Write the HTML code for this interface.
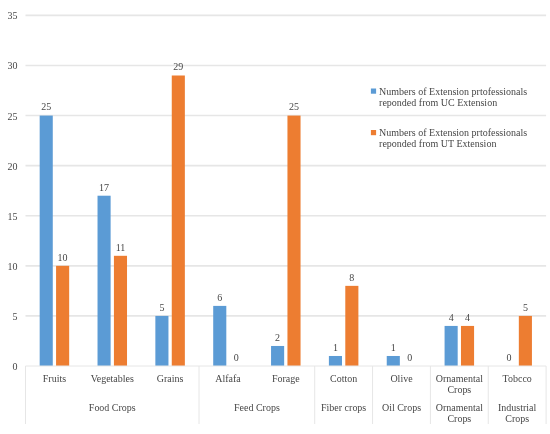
<!DOCTYPE html><html><head><meta charset="utf-8"><style>html,body{margin:0;padding:0;background:#fff;}svg{display:block;}text{font-family:"Liberation Serif","Times New Roman",serif;font-size:10px;fill:#474747;}</style></head><body>
<svg width="550" height="434" viewBox="0 0 550 434">
<rect width="550" height="434" fill="#fff"/>
<line x1="25.5" y1="315.91" x2="546.1" y2="315.91" stroke="#e6e6e6" stroke-width="1.6"/>
<line x1="25.5" y1="265.83" x2="546.1" y2="265.83" stroke="#e6e6e6" stroke-width="1.6"/>
<line x1="25.5" y1="215.74" x2="546.1" y2="215.74" stroke="#e6e6e6" stroke-width="1.6"/>
<line x1="25.5" y1="165.66" x2="546.1" y2="165.66" stroke="#e6e6e6" stroke-width="1.6"/>
<line x1="25.5" y1="115.57" x2="546.1" y2="115.57" stroke="#e6e6e6" stroke-width="1.6"/>
<line x1="25.5" y1="65.49" x2="546.1" y2="65.49" stroke="#e6e6e6" stroke-width="1.6"/>
<line x1="25.5" y1="15.4" x2="546.1" y2="15.4" stroke="#e6e6e6" stroke-width="1.6"/>
<text x="17.6" y="370" text-anchor="end">0</text>
<text x="17.6" y="319.91" text-anchor="end">5</text>
<text x="17.6" y="269.83" text-anchor="end">10</text>
<text x="17.6" y="219.74" text-anchor="end">15</text>
<text x="17.6" y="169.66" text-anchor="end">20</text>
<text x="17.6" y="119.57" text-anchor="end">25</text>
<text x="17.6" y="69.49" text-anchor="end">30</text>
<text x="17.6" y="19.4" text-anchor="end">35</text>
<rect x="39.67" y="115.57" width="13.1" height="250.43" fill="#5b9bd5"/>
<text x="46.22" y="110.47" text-anchor="middle">25</text>
<rect x="56.07" y="265.83" width="13.1" height="100.17" fill="#ed7d31"/>
<text x="62.62" y="260.73" text-anchor="middle">10</text>
<rect x="97.52" y="195.71" width="13.1" height="170.29" fill="#5b9bd5"/>
<text x="104.07" y="190.61" text-anchor="middle">17</text>
<rect x="113.92" y="255.81" width="13.1" height="110.19" fill="#ed7d31"/>
<text x="120.47" y="250.71" text-anchor="middle">11</text>
<rect x="155.36" y="315.91" width="13.1" height="50.09" fill="#5b9bd5"/>
<text x="161.91" y="310.81" text-anchor="middle">5</text>
<rect x="171.76" y="75.5" width="13.1" height="290.5" fill="#ed7d31"/>
<text x="178.31" y="70.4" text-anchor="middle">29</text>
<rect x="213.21" y="305.9" width="13.1" height="60.1" fill="#5b9bd5"/>
<text x="219.76" y="300.8" text-anchor="middle">6</text>
<text x="236.16" y="360.9" text-anchor="middle">0</text>
<rect x="271.05" y="345.97" width="13.1" height="20.03" fill="#5b9bd5"/>
<text x="277.6" y="340.87" text-anchor="middle">2</text>
<rect x="287.45" y="115.57" width="13.1" height="250.43" fill="#ed7d31"/>
<text x="294" y="110.47" text-anchor="middle">25</text>
<rect x="328.89" y="355.98" width="13.1" height="10.02" fill="#5b9bd5"/>
<text x="335.44" y="350.88" text-anchor="middle">1</text>
<rect x="345.29" y="285.86" width="13.1" height="80.14" fill="#ed7d31"/>
<text x="351.84" y="280.76" text-anchor="middle">8</text>
<rect x="386.74" y="355.98" width="13.1" height="10.02" fill="#5b9bd5"/>
<text x="393.29" y="350.88" text-anchor="middle">1</text>
<text x="409.69" y="360.9" text-anchor="middle">0</text>
<rect x="444.58" y="325.93" width="13.1" height="40.07" fill="#5b9bd5"/>
<text x="451.13" y="320.83" text-anchor="middle">4</text>
<rect x="460.98" y="325.93" width="13.1" height="40.07" fill="#ed7d31"/>
<text x="467.53" y="320.83" text-anchor="middle">4</text>
<text x="508.98" y="360.9" text-anchor="middle">0</text>
<rect x="518.83" y="315.91" width="13.1" height="50.09" fill="#ed7d31"/>
<text x="525.38" y="310.81" text-anchor="middle">5</text>
<line x1="25.5" y1="366" x2="546.1" y2="366" stroke="#e6e6e6" stroke-width="1"/>
<line x1="25.5" y1="366" x2="25.5" y2="424" stroke="#e6e6e6" stroke-width="1"/>
<line x1="199.03" y1="366" x2="199.03" y2="424" stroke="#e6e6e6" stroke-width="1"/>
<line x1="314.72" y1="366" x2="314.72" y2="424" stroke="#e6e6e6" stroke-width="1"/>
<line x1="372.57" y1="366" x2="372.57" y2="424" stroke="#e6e6e6" stroke-width="1"/>
<line x1="430.41" y1="366" x2="430.41" y2="424" stroke="#e6e6e6" stroke-width="1"/>
<line x1="488.26" y1="366" x2="488.26" y2="424" stroke="#e6e6e6" stroke-width="1"/>
<line x1="546.1" y1="366" x2="546.1" y2="424" stroke="#e6e6e6" stroke-width="1"/>
<text transform="translate(54.42 381.5) scale(1 1.07)" text-anchor="middle">Fruits</text>
<text transform="translate(112.27 381.5) scale(1 1.07)" text-anchor="middle">Vegetables</text>
<text transform="translate(170.11 381.5) scale(1 1.07)" text-anchor="middle">Grains</text>
<text transform="translate(227.96 381.5) scale(1 1.07)" text-anchor="middle">Alfafa</text>
<text transform="translate(285.8 381.5) scale(1 1.07)" text-anchor="middle">Forage</text>
<text transform="translate(343.64 381.5) scale(1 1.07)" text-anchor="middle">Cotton</text>
<text transform="translate(401.49 381.5) scale(1 1.07)" text-anchor="middle">Olive</text>
<text transform="translate(459.33 381.5) scale(1 1.07)" text-anchor="middle">Ornamental</text>
<text transform="translate(459.33 392.6) scale(1 1.07)" text-anchor="middle">Crops</text>
<text transform="translate(517.18 381.5) scale(1 1.07)" text-anchor="middle">Tobcco</text>
<text transform="translate(112.27 410.6) scale(1 1.07)" text-anchor="middle">Food Crops</text>
<text transform="translate(256.88 410.6) scale(1 1.07)" text-anchor="middle">Feed Crops</text>
<text transform="translate(343.64 410.6) scale(1 1.07)" text-anchor="middle">Fiber crops</text>
<text transform="translate(401.49 410.6) scale(1 1.07)" text-anchor="middle">Oil Crops</text>
<text transform="translate(459.33 410.6) scale(1 1.07)" text-anchor="middle">Ornamental</text>
<text transform="translate(459.33 421.7) scale(1 1.07)" text-anchor="middle">Crops</text>
<text transform="translate(517.18 410.6) scale(1 1.07)" text-anchor="middle">Industrial</text>
<text transform="translate(517.18 421.7) scale(1 1.07)" text-anchor="middle">Crops</text>
<rect x="370.9" y="88.5" width="5.2" height="5.2" fill="#5b9bd5"/>
<text x="379.1" y="94.5">Numbers of Extension prtofessionals</text>
<text x="379.1" y="105.5">reponded from UC Extension</text>
<rect x="370.9" y="130" width="5.2" height="5.2" fill="#ed7d31"/>
<text x="379.1" y="136">Numbers of Extension prtofessionals</text>
<text x="379.1" y="147">reponded from UT Extension</text>
</svg></body></html>
